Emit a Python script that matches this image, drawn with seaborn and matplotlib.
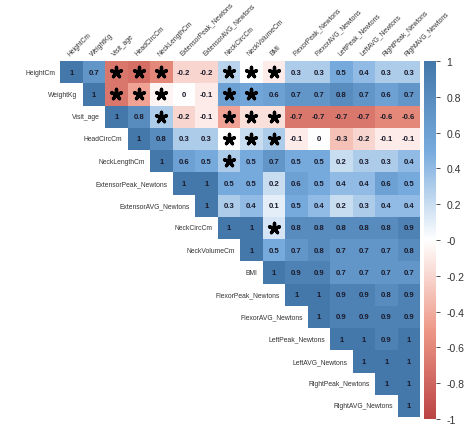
import numpy as np
import pandas as pd
import seaborn as sns
import matplotlib.pyplot as plt
from matplotlib.colors import LinearSegmentedColormap

# variable names
labels = ['HeightCm', 'WeightKg', 'Visit_age', 'HeadCircCm', 'NeckLengthCm',
          'ExtensorPeak_Newtons', 'ExtensorAVG_Newtons', 'NeckCircCm',
          'NeckVolumeCm', 'BMI', 'FlexorPeak_Newtons', 'FlexorAVG_Newtons',
          'LeftPeak_Newtons', 'LeftAVG_Newtons', 'RightPeak_Newtons',
          'RightAVG_Newtons']

# upper triangle, row i holds columns i..15
r00 = [1, 0.7, -0.7, -0.75, -0.6, -0.2, -0.2, 0.25, 0.0, -0.1, 0.3, 0.3, 0.5, 0.4, 0.3, 0.3]
r01 = [1, -0.7, -0.45, -0.05, 0, -0.1, 0.6, 0.55, 0.6, 0.7, 0.7, 0.8, 0.7, 0.6, 0.7]
r02 = [1, 0.8, 0.3, -0.2, -0.1, -0.45, -0.15, -0.15, -0.7, -0.7, -0.7, -0.7, -0.6, -0.6]
r03 = [1, 0.8, 0.3, 0.3, 0.0, 0.2, 0.3, -0.1, 0, -0.3, -0.2, -0.1, -0.1]
r04 = [1, 0.6, 0.5, 0.3, 0.5, 0.7, 0.5, 0.5, 0.2, 0.3, 0.3, 0.4]
r05 = [1, 1, 0.5, 0.5, 0.2, 0.6, 0.5, 0.4, 0.4, 0.6, 0.5]
r06 = [1, 0.3, 0.4, 0.1, 0.5, 0.4, 0.2, 0.3, 0.4, 0.4]
r07 = [1, 1, 0.15, 0.8, 0.8, 0.8, 0.8, 0.8, 0.9]
r08 = [1, 0.5, 0.7, 0.8, 0.7, 0.7, 0.7, 0.8]
r09 = [1, 0.9, 0.9, 0.7, 0.7, 0.7, 0.7]
r10 = [1, 1, 0.9, 0.9, 0.8, 0.9]
r11 = [1, 0.9, 0.9, 0.9, 0.9]
r12 = [1, 1, 0.9, 1]
r13 = [1, 1, 1]
r14 = [1, 1]
r15 = [1]
rows = [r00, r01, r02, r03, r04, r05, r06, r07, r08, r09, r10, r11, r12, r13, r14, r15]

# non-significant cells (shown with a star instead of the value)
insig = [(0, 2), (0, 3), (0, 4), (0, 7), (0, 8), (0, 9),
         (1, 2), (1, 3), (1, 4), (1, 7), (1, 8),
         (2, 4), (2, 7), (2, 8), (2, 9),
         (3, 7), (3, 8), (3, 9), (4, 7), (7, 9)]

plt.rcParams['font.family'] = ['Liberation Sans', 'DejaVu Sans']

n = len(labels)
mat = np.full((n, n), np.nan)
for i, r in enumerate(rows):
    mat[i, i:] = r
df = pd.DataFrame(mat, index=labels, columns=labels)

cmap = LinearSegmentedColormap.from_list(
    'corr', ['#BB4444', '#EE9988', '#FFFFFF', '#77AADD', '#4477AA'])

W, H = 474, 427
fig = plt.figure(figsize=(W / 100, H / 100), dpi=100)
ax = fig.add_axes([60 / W, (H - 418) / H, 360 / W, 356 / H])
cax = fig.add_axes([424 / W, (H - 420) / H, 12.5 / W, 358 / H])

sns.heatmap(df, ax=ax, cbar_ax=cax, cmap=cmap, vmin=-1, vmax=1,
            mask=np.isnan(mat), square=False, xticklabels=False,
            yticklabels=False, linewidths=0)
ax.set_xlabel('')
ax.set_ylabel('')

star_set = set(insig)
sx = [j + 0.5 for i, j in insig]
sy = [i + 0.5 for i, j in insig]
ax.scatter(sx, sy, marker=(5, 2, 0), s=55, linewidths=2.4, color='black',
           zorder=5)
for i in range(n):
    for j in range(i, n):
        if (i, j) not in star_set:
            ax.text(j + 0.5, i + 0.5, f'{mat[i, j]:g}', ha='center',
                    va='center', fontsize=5.6, fontweight='bold',
                    color='#1a1a2a')

# row labels left of the diagonal
for i, lab in enumerate(labels):
    ax.text(i - 0.22, i + 0.5, lab, ha='right', va='center',
            fontsize=4.9, color='#333333')

# column labels on top, rotated
for j, lab in enumerate(labels):
    ax.text(j + 0.5, -0.2, lab, ha='left', va='bottom', rotation=45,
            rotation_mode='anchor', fontsize=4.9, color='#333333',
            clip_on=False)

# colorbar ticks
ticks = np.round(np.arange(-1, 1.01, 0.2), 1)
cax.set_yticks(ticks)
cax.set_yticklabels([f'{v:g}' for v in ticks])
cax.tick_params(axis='y', labelsize=7.5, length=3, width=0.6, colors='#333333',
                labelcolor='#333333', pad=4)
for s in cax.spines.values():
    s.set_visible(False)

fig.savefig('out.png', dpi=100)
